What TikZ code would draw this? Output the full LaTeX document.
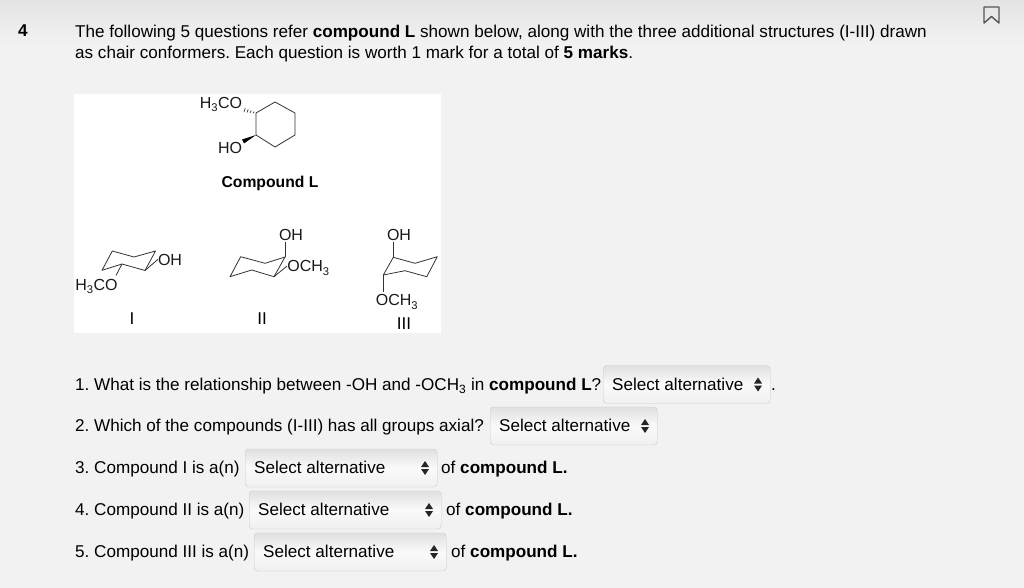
\documentclass[tikz,border=0pt]{standalone}
\usepackage{fontspec}
\setmainfont{Liberation Sans}
\usetikzlibrary{calc}
\frenchspacing
\definecolor{pagebg}{HTML}{F2F2F2}
\definecolor{pagetop}{HTML}{E4E4E4}
\definecolor{boxline}{HTML}{CACACA}
\definecolor{flagline}{HTML}{555555}
\newcommand{\lowsub}[1]{\raisebox{-0.12ex}[0pt][0pt]{\textsubscript{#1}}}
\tikzstyle{txt}=[anchor=base west,inner sep=0pt,font=\fontsize{17.1}{18}\selectfont,text=black]
\tikzstyle{chem}=[inner sep=0pt,font=\fontsize{16}{16}\selectfont,text=black!90]
\tikzstyle{bond}=[line width=0.8pt,black!80,line join=round]
\tikzstyle{selbox}=[anchor=west,draw=boxline,rounded corners=3.5pt,top color=black!12,bottom color=white!94!black,middle color=white!98!black,minimum height=38pt,inner sep=0pt]
\newcommand{\selectalt}[4]
{  % #1 = name , #2 = left , #3 = right , #4 = mid height
  \node[selbox,minimum width=#3pt-#2pt] (#1) at (#2,#4) {};
  \node[txt] (#1text) at (#2+9,#4+5.5) {Select alternative};
  \fill[black!85] (#3-12,#4-1) -- ++(-4,0) -- ++(4,-6) -- ++(4,6) -- cycle;
  \fill[black!85] (#3-12,#4+7) -- ++(-4,-6) -- ++(8,0) -- cycle;
}
\begin{document}
\begin{tikzpicture}[x=1pt,y=-1pt]
  \fill[pagebg] (0,0) rectangle (1024,588);
  \shade[top color=pagetop,bottom color=pagebg] (0,0) rectangle (1024,45);
  \fill[white] (74,94) rectangle (441,333);
  \useasboundingbox (0,0) rectangle (1024,588);
  % header
  \node[txt] (qnum) at (18,37) {\textbf{4}};
  \node[txt] (intro1) at (75,38) {The following 5 questions refer \textbf{compound L} shown below, along with the three additional structures (I-III) drawn};
  \node[txt] (intro2) at (75,59) {as chair conformers. Each question is worth 1 mark for a total of \textbf{5 marks}.};
  \draw[flagline,line width=1.4pt,line join=round] (984,7) -- (999,7) -- (999,23) -- (991.5,16.5) -- (984,23) -- cycle;
  % compound L
  \coordinate (La) at (256,113);
  \coordinate (Lb) at (275,102);
  \coordinate (Lc) at (295,113);
  \coordinate (Ld) at (295,135);
  \coordinate (Le) at (275,147);
  \coordinate (Lf) at (256,135);
  \draw[bond] (La) -- (Lb) -- (Lc) -- (Ld) -- (Le) -- (Lf) -- cycle;
  \node[chem] (Lmeo) at (221,102.5) {H\lowsub{3}CO};
  \node[chem] (Lho) at (230,148) {HO};
  \fill[black] (Lf) -- (244,143.5) -- (242,139.5) -- cycle;
  \foreach \t/\w in {0.2/0.8,0.45/1.2,0.7/1.6,0.95/2.0}
    \draw[black!80,line width=0.7pt] ($(La)!\t!(244,110)+(0.6,-\w)$) -- ++(-1.2,2*\w);
  \node[txt,anchor=base,font=\fontsize{15.7}{18}\selectfont\bfseries] (Lname) at (270,187) {Compound L};
  % structure I
  \coordinate (Ia) at (112.3,251);
  \coordinate (Ib) at (134,257);
  \coordinate (Ic) at (155.5,251);
  \coordinate (Id) at (145,270.5);
  \coordinate (Ie) at (122,264);
  \coordinate (If) at (102,270.3);
  \draw[bond] (Ia) -- (Ib) -- (Ic) -- (Id) -- (Ie) -- (If) -- cycle;
  \node[chem] (Ioh) at (170,259.5) {OH};
  \node[chem] (Imeo) at (96.5,284.5) {H\lowsub{3}CO};
  \draw[bond] (Id) -- (Ioh.west);
  \draw[bond] (Ie) -- (116,275.5);
  \node[txt,anchor=base] (Ilab) at (132,324) {I};
  % structure II
  \coordinate (IIa) at (240.7,256.7);
  \coordinate (IIb) at (265,263.3);
  \coordinate (IIc) at (285,257);
  \coordinate (IId) at (274,276.7);
  \coordinate (IIe) at (251.7,270);
  \coordinate (IIf) at (230,276.7);
  \draw[bond] (IIa) -- (IIb) -- (IIc) -- (IId) -- (IIe) -- (IIf) -- cycle;
  \node[chem] (IIoh) at (291,234.5) {OH};
  \node[chem] (IIome) at (308.5,266) {OCH\lowsub{3}};
  \draw[bond] (IIc) -- (285,242);
  \draw[bond] (IId) -- (IIome.west);
  \node[txt,anchor=base] (IIlab) at (262,324) {II};
  % structure III
  \coordinate (IIIa) at (383.3,275);
  \coordinate (IIIb) at (393.3,257.3);
  \coordinate (IIIc) at (415,263.3);
  \coordinate (IIId) at (437.3,256.7);
  \coordinate (IIIe) at (426.7,276.7);
  \coordinate (IIIf) at (405,270.7);
  \draw[bond] (IIIa) -- (IIIb) -- (IIIc) -- (IIId) -- (IIIe) -- (IIIf) -- cycle;
  \node[chem] (IIIoh) at (399,234.5) {OH};
  \node[chem] (IIIome) at (397,300) {OCH\lowsub{3}};
  \draw[bond] (IIIb) -- (393.3,242);
  \draw[bond] (IIIa) -- (383.3,291.5);
  \node[txt,anchor=base] (IIIlab) at (404,329) {III};
  % questions
  \node[txt] (q1) at (75,390) {1. What is the relationship between -OH and -OCH\lowsub{3} in \textbf{compound L}?};
  \selectalt{sel1}{603}{770}{384.5}
  \node[txt] (q1end) at (771,390) {.};
  \node[txt] (q2) at (75,431) {2. Which of the compounds (I-III) has all groups axial?};
  \selectalt{sel2}{490}{657}{426}
  \node[txt] (q3) at (75,473) {3. Compound I is a(n)};
  \selectalt{sel3}{245}{437}{468}
  \node[txt] (q3end) at (441,473) {of \textbf{compound L.}};
  \node[txt] (q4) at (75,515) {4. Compound II is a(n)};
  \selectalt{sel4}{249}{441}{510}
  \node[txt] (q4end) at (446,515) {of \textbf{compound L.}};
  \node[txt] (q5) at (75,557) {5. Compound III is a(n)};
  \selectalt{sel5}{254}{446}{552}
  \node[txt] (q5end) at (451,557) {of \textbf{compound L.}};
\end{tikzpicture}
\end{document}
